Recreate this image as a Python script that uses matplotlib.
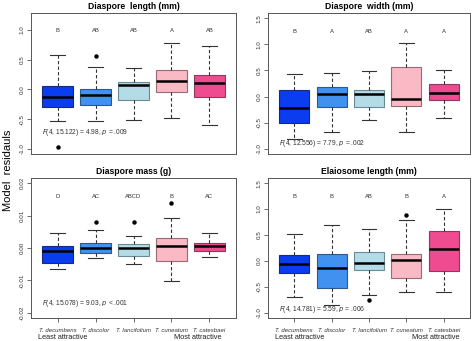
import matplotlib
matplotlib.use("Agg")
import matplotlib.pyplot as plt
import numpy as np

plt.rcParams['font.family'] = ['Liberation Sans', 'DejaVu Sans']

species = ["T. decumbens", "T. discolor", "T. lancifolium", "T. cuneatum", "T. catesbaei"]
colors = ["#0A3CF0", "#4191F0", "#B4DCE6", "#F9B9C5", "#EE4B91"]
edges = ["#1A2A7A", "#2A5A90", "#6A8A94", "#9A6B74", "#8A3A5A"]

titles = ["Diaspore  length (mm)", "Diaspore  width (mm)", "Diaspore mass (g)", "Elaiosome length (mm)"]

# per panel: [whislo, q1, med, q3, whishi] for each species
length_stats = [[-0.54, -0.29, -0.12, 0.05, 0.58],
                [-0.54, -0.27, -0.10, 0.005, 0.38],
                [-0.51, -0.17, 0.07, 0.13, 0.36],
                [-0.48, -0.05, 0.15, 0.33, 0.79],
                [-0.60, -0.13, 0.11, 0.24, 0.74]]
length_fliers = [[-0.97], [0.57], [], [], []]

width_stats = [[-0.82, -0.50, -0.225, 0.125, 0.43],
               [-0.67, -0.20, 0.04, 0.175, 0.46],
               [-0.44, -0.20, 0.045, 0.125, 0.48],
               [-0.68, -0.18, -0.04, 0.56, 1.03],
               [-0.41, -0.06, 0.075, 0.24, 0.50]]
width_fliers = [[], [], [], [], []]

mass_stats = [[-0.0066, -0.0045, -0.0009, 0.0006, 0.0047],
              [-0.0032, -0.0014, 0.0000, 0.0014, 0.0057],
              [-0.0049, -0.0026, 0.0001, 0.0012, 0.0038],
              [-0.0101, -0.0040, 0.0005, 0.0032, 0.0092],
              [-0.0029, -0.0008, 0.0005, 0.0014, 0.0045]]
mass_fliers = [[], [0.0081], [0.0081], [0.0140], []]

elaio_stats = [[-0.69, -0.24, -0.06, 0.11, 0.525],
               [-0.85, -0.525, -0.14, 0.13, 0.70],
               [-0.65, -0.175, -0.045, 0.175, 0.62],
               [-0.60, -0.325, 0.01, 0.125, 0.79],
               [-0.60, -0.20, 0.225, 0.575, 1.00]]
elaio_fliers = [[], [], [-0.75], [0.89], []]

letters = [["B", "AB", "AB", "A", "AB"],
           ["B", "A", "AB", "A", "A"],
           ["D", "AC", "ABCD", "B", "AC"],
           ["B", "B", "AB", "B", "A"]]

ftexts = ["(4, 15.122) = 4.98, ", "(4, 12.556) = 7.79, ", "(4, 15.078) = 9.03, ", "(4, 14.781) = 5.59, "]
ptexts = [" = .009", " = .002", " < .001", " = .006"]

panels_stats = [length_stats, width_stats, mass_stats, elaio_stats]
panels_fliers = [length_fliers, width_fliers, mass_fliers, elaio_fliers]
ylims = [(-1.0, 1.2), (-1.0, 1.5), (-0.02, 0.02), (-1.0, 1.5)]
yticks = [[-1.0, -0.5, 0.0, 0.5, 1.0],
          [-1.0, -0.5, 0.0, 0.5, 1.0, 1.5],
          [-0.02, -0.01, 0.00, 0.01, 0.02],
          [-1.0, -0.5, 0.0, 0.5, 1.0, 1.5]]
ytlabels = [["-1.0", "-0.5", "0.0", "0.5", "1.0"],
            ["-1.0", "-0.5", "0.0", "0.5", "1.0", "1.5"],
            ["-0.02", "-0.01", "0.00", "0.01", "0.02"],
            ["-1.0", "-0.5", "0.0", "0.5", "1.0", "1.5"]]
letter_y = [1.0, 1.25, 0.016, 1.25]
ftext_y = [-0.73, -0.9, -0.017, -0.93]

W, H = 474, 341
fig = plt.figure(figsize=(W / 100, H / 100), dpi=100)

boxes_px = [(31, 13, 236, 154), (268, 13, 470, 154), (31, 178, 236, 318), (268, 178, 470, 318)]
frame_col = "#555555"

for i in range(4):
    l, t, r, b = boxes_px[i]
    ax = fig.add_axes([l / W, 1 - b / H, (r - l) / W, (b - t) / H])
    stats = []
    for j in range(5):
        lo, q1, med, q3, hi = panels_stats[i][j]
        stats.append(dict(whislo=lo, q1=q1, med=med, q3=q3, whishi=hi, fliers=panels_fliers[i][j]))
    bp = ax.bxp(stats, positions=np.arange(1, 6), widths=0.8, patch_artist=True,
                showfliers=True,
                boxprops=dict(linewidth=0.8),
                medianprops=dict(color="black", linewidth=1.8, solid_capstyle="butt"),
                whiskerprops=dict(color="#333333", linewidth=0.8, linestyle=(0, (3, 2))),
                capprops=dict(color="#333333", linewidth=0.8),
                flierprops=dict(marker="o", markersize=2.2, markerfacecolor="black",
                                markeredgecolor="black"))
    for j, patch in enumerate(bp["boxes"]):
        patch.set_facecolor(colors[j])
        patch.set_edgecolor(edges[j])
    for cap in bp["caps"]:
        x = cap.get_xdata()
        c = (x[0] + x[1]) / 2
        cap.set_xdata([c - 0.2, c + 0.2])
    lo, hi = ylims[i]
    ext = (hi - lo) * 0.04
    ax.set_ylim(lo - ext, hi + ext)
    ax.set_xlim(0.3, 5.7)
    ax.set_yticks(yticks[i])
    ax.set_yticklabels(ytlabels[i], rotation=90, va="center", fontsize=4.5, color="#333333")
    ax.tick_params(axis="y", length=3, width=0.6, color=frame_col, pad=1.5)
    if i >= 2:
        ax.set_xticks(np.arange(1, 6))
        ax.set_xticklabels(species, fontsize=4.3, style="italic", color="#333333")
        ax.tick_params(axis="x", length=3, width=0.6, color=frame_col, pad=4)
    else:
        ax.set_xticks([])
    for s in ax.spines.values():
        s.set_color(frame_col)
        s.set_linewidth(0.7)
    for j in range(5):
        ax.text(j + 1, letter_y[i], letters[i][j], ha="center", va="center", fontsize=4.2, color="#333333")
    ax.text(0.6, ftext_y[i], "$\\it{F}$" + ftexts[i] + "$\\it{p}$" + ptexts[i],
            ha="left", va="center", fontsize=4.8, color="#333333")
    ax.set_title(titles[i], fontsize=6.2, fontweight="bold", pad=3)

# bottom annotations
fig.text(38 / W, 1 - 337.5 / H, "Least attractive", ha="left", va="center", fontsize=5.3, color="#222222")
fig.text(222 / W, 1 - 337.5 / H, "Most attractive", ha="right", va="center", fontsize=5.3, color="#222222")
fig.text(275 / W, 1 - 337.5 / H, "Least attractive", ha="left", va="center", fontsize=5.3, color="#222222")
fig.text(459 / W, 1 - 337.5 / H, "Most attractive", ha="right", va="center", fontsize=5.3, color="#222222")

fig.text(8 / W, 0.5, "Model  residauls", rotation=90, ha="center", va="center", fontsize=8)

fig.savefig("out.png", dpi=100)
